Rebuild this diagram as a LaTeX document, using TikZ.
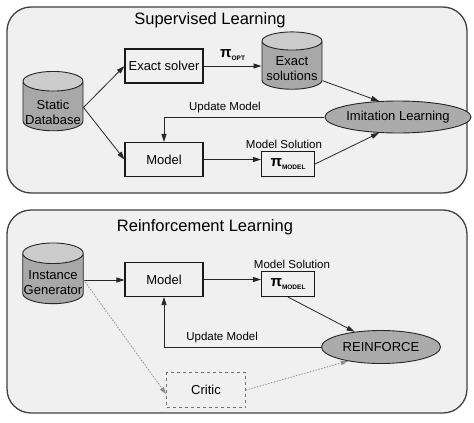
\documentclass[tikz,border=0pt]{standalone}
\usepackage{fontspec}
\setmainfont{Liberation Sans}
\usetikzlibrary{shapes.geometric,arrows.meta}

\tikzset{
  panel/.style={draw=black!75,line width=1.3pt,rounded corners=24pt,fill=black!6},
  box/.style={draw=black!90,line width=1.1pt,minimum width=78pt,minimum height=34pt,font=\fontsize{13}{15}\selectfont},
  pibox/.style={draw=black!90,line width=1.1pt,minimum width=53pt,minimum height=25pt,inner sep=0pt},
  store/.style={cylinder,shape border rotate=90,aspect=0.34,draw=black!85,line width=0.9pt,cylinder uses custom fill,cylinder body fill=black!34,cylinder end fill=black!20,minimum width=60pt,minimum height=50pt,inner sep=1pt,font=\fontsize{13}{15}\selectfont},
  learner/.style={ellipse,draw=black!85,line width=0.9pt,fill=black!33,minimum width=119pt,minimum height=32pt,inner sep=0pt,font=\fontsize{13}{15}\selectfont},
  critbox/.style={draw=black!55,dashed,line width=1.1pt,minimum width=79pt,minimum height=35pt,font=\fontsize{13}{15}\selectfont},
  arr/.style={-{Triangle[length=8pt,width=5pt]},line width=0.8pt,draw=black!85},
  dotarr/.style={-{Triangle[length=7pt,width=4.5pt]},dotted,line width=0.9pt,draw=black!45,fill=black!45},
  lbl/.style={font=\fontsize{11.5}{13}\selectfont},
  ttl/.style={font=\fontsize{16.5}{19}\selectfont}
}
\newcommand{\piname}[1]{{\fontsize{15}{15}\selectfont\textbf{π}}\raisebox{-2.5pt}{\fontsize{6.5}{7}\selectfont\textbf{#1}}}
% text of a store, dropped a little below the middle
\newcommand{\storelabel}[2]{\raisebox{-#1}[\height][\depth]{\begin{tabular}{@{}c@{}}#2\end{tabular}}}

\begin{document}
\begin{tikzpicture}[x=1pt,y=-1pt]
\useasboundingbox (0,0) rectangle (474,423);

% supervised part
\draw[panel] (7,7) rectangle (467,193);
\node[ttl] (suptitle) at (210,20) {Supervised Learning};
\node[store] (db) at (53,107.5) {\storelabel{6pt}{Static\\Database}};
\node[box] (solver) at (164,66) {Exact solver};
\node[store,minimum height=48pt] (sol) at (292,66.5) {\storelabel{3.5pt}{Exact\\solutions}};
\node[learner] (imit) at (398,117) {Imitation Learning};
\node[box] (model) at (164,159.5) {Model};
\node[pibox] (pim) at (288,164) {\piname{MODEL}};
\node[lbl,anchor=south] (msol) at ([xshift=-4pt,yshift=-1pt]pim.north) {Model Solution};

\draw[arr] (db.east) -- (solver.west);
\draw[arr] (db.east) -- (model.west);
\draw[arr] (solver.east) -- node[above=2pt]{\piname{OPT}} (solver.east -| sol.west);
\draw[arr] (sol.-25) -- (imit.140);
\draw[arr] (model.east) -- (model.east -| pim.west);
\draw[arr] (pim.east) -- (imit.220);
\draw[arr] (imit.west) -- node[lbl,above,pos=0.62]{Update Model} (model.north |- imit.west) -- (model.north);

% reinforcement part
\draw[panel] (7,210) rectangle (467,413);
\node[ttl] (rltitle) at (205,227) {Reinforcement Learning};
\node[store,minimum height=51pt] (gen) at (53,280) {\storelabel{3.5pt}{Instance\\Generator}};
\node[box] (model2) at (164,279.5) {Model};
\node[pibox] (pim2) at (288,284) {\piname{MODEL}};
\node[lbl,anchor=south] (msol2) at ([xshift=4pt,yshift=-1pt]pim2.north) {Model Solution};
\node[learner,minimum height=33pt] (reinf) at (381,347) {REINFORCE};
\node[critbox] (critic) at (206,390) {Critic};

\draw[arr] (gen.east) -- (gen.east -| model2.west);
\draw[arr] (model2.east) -- (model2.east -| pim2.west);
\draw[arr] (pim2.south) -- (reinf.150);
\draw[arr] (reinf.west) -- node[lbl,above,pos=0.63]{Update Model} (model2.south |- reinf.west) -- (model2.south);
\draw[dotarr] (gen.east) -- ([yshift=-4pt]critic.west);
\draw[dotarr] (critic.east) -- (reinf.203);
\end{tikzpicture}
\end{document}
